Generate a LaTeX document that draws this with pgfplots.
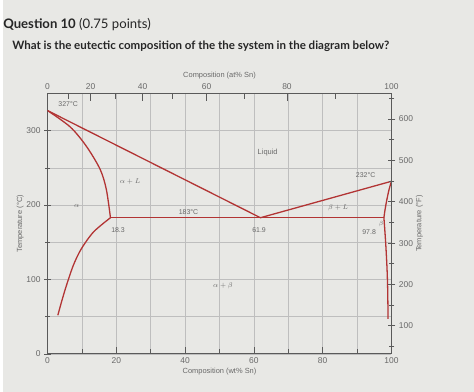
\documentclass[border=0pt]{standalone}
\usepackage{fontspec}
\setmainfont{Liberation Sans}
\newfontfamily\qfont{Lato}
\usepackage{pgfplots}
\pgfplotsset{compat=1.18}
\definecolor{bg}{RGB}{232,232,229}
\definecolor{phase}{RGB}{178,52,52}
\definecolor{axc}{RGB}{90,90,90}
\definecolor{lbl}{RGB}{105,105,105}
\definecolor{gridc}{RGB}{190,190,190}
\begin{document}
\begin{tikzpicture}
\fill[bg] (0pt,0pt) rectangle (474pt,394pt);
\node[anchor=west,font=\qfont\fontsize{13.2}{15}\selectfont,text=black!85] at (-3pt,369pt) {\textbf{Question 10} (0.75 points)};
\node[anchor=west,font=\qfont\bfseries\fontsize{11.6}{14}\selectfont,text=black!85] at (6pt,347pt) {What is the eutectic composition of the the system in the diagram below?};
\begin{axis}[
  at={(45pt,38pt)}, anchor=south west, scale only axis,
  width=346pt, height=262pt,
  xmin=0, xmax=100, ymin=0, ymax=350,
  axis line style={axc, line width=0.9pt},
  xtick={0,20,...,100}, minor xtick={10,30,...,90},
  ytick={0,100,200,300}, minor ytick={50,150,250},
  xtick pos=lower, ytick pos=left,
  tick style={axc, line width=0.6pt},
  xtick align=inside, ytick align=center,
  major tick length=7pt, minor tick length=5pt,
  grid=both,
  major grid style={gridc, line width=0.55pt},
  minor grid style={gridc, line width=0.55pt},
  ticklabel style={font=\fontsize{8.5}{9}\selectfont, text=lbl},
  /pgf/number format/assume math mode=true,
  xlabel={Composition (wt\% Sn)},
  ylabel={Temperature (°C)},
  label style={font=\fontsize{7.5}{9}\selectfont, text=lbl},
  xlabel style={yshift=2pt},
  ylabel style={yshift=-4pt},
]
% liquidus
\addplot[phase, line width=1.3pt] coordinates {(0,327) (61.9,183) (100,232)};
% eutectic isotherm
\addplot[phase, line width=1.3pt] coordinates {(18.3,183) (97.8,183)};
% alpha solidus
\addplot[phase, line width=1.3pt, smooth] coordinates {(0,327) (6.6,305) (11.3,279) (15.3,248) (17.1,221) (18.3,183)};
% alpha solvus
\addplot[phase, line width=1.3pt, smooth] coordinates {(18.3,183) (13.4,164) (9.8,141) (7.5,119) (5.5,92) (4.2,72) (3,52)};
% beta solidus
\addplot[phase, line width=1.3pt, smooth] coordinates {(100,232) (99.3,221) (98.6,206) (98.1,193) (97.8,183)};
% beta solvus
\addplot[phase, line width=1.3pt, smooth] coordinates {(97.8,183) (98.3,150) (98.7,115) (98.9,85) (99,47)};
\node[font=\fontsize{7}{8}\selectfont, text=lbl] at (axis cs:6,336) {327°C};
\node[font=\fontsize{7}{8}\selectfont, text=lbl] at (axis cs:92.5,240) {232°C};
\node[font=\fontsize{7}{8}\selectfont, text=lbl] at (axis cs:41,191) {183°C};
\node[font=\fontsize{7}{8}\selectfont, text=lbl] at (axis cs:20.5,167) {18.3};
\node[font=\fontsize{7}{8}\selectfont, text=lbl] at (axis cs:61.5,167) {61.9};
\node[font=\fontsize{7}{8}\selectfont, text=lbl] at (axis cs:93.5,164) {97.8};
\node[font=\fontsize{7.5}{8}\selectfont, text=lbl] at (axis cs:64,271) {Liquid};
\node[font=\fontsize{7}{8}\selectfont, text=lbl] at (axis cs:24,232) {$\alpha + L$};
\node[font=\fontsize{7}{8}\selectfont, text=lbl] at (axis cs:84.5,196) {$\beta + L$};
\node[font=\fontsize{7}{8}\selectfont, text=lbl] at (axis cs:51,92) {$\alpha + \beta$};
\node[font=\fontsize{7}{8}\selectfont, text=lbl] at (axis cs:8.5,199) {$\alpha$};
\node[font=\fontsize{6}{7}\selectfont, text=lbl] at (axis cs:97,175) {$\beta$};
\node[font=\fontsize{7}{8}\selectfont, text=lbl] at ([yshift=-24pt]axis description cs:0.01,0) {(Pb)};
\node[font=\fontsize{7}{8}\selectfont, text=lbl] at ([yshift=-26pt]axis description cs:1,0) {(Sn)};
\end{axis}
\begin{axis}[
  at={(45pt,38pt)}, anchor=south west, scale only axis,
  width=346pt, height=262pt,
  xmin=0, xmax=100, ymin=32, ymax=662,
  axis x line*=top, axis y line*=right,
  axis line style={axc, line width=0.9pt},
  xtick={0,12.53,27.64,46.22,69.62,100},
  xticklabels={0,20,40,60,80,100},
  minor xtick={5.98,19.71,36.42,57.21,83.76},
  ytick={100,200,...,600}, minor ytick={50,150,...,650},
  tick style={axc, line width=0.6pt},
  xtick align=inside, ytick align=center,
  major tick length=8pt, minor tick length=6pt,
  ticklabel style={font=\fontsize{8.5}{9}\selectfont, text=lbl},
  /pgf/number format/assume math mode=true,
  xlabel={Composition (at\% Sn)},
  ylabel={Temperature (°F)},
  label style={font=\fontsize{7.5}{9}\selectfont, text=lbl},
  xlabel style={yshift=-2pt},
  ylabel style={yshift=4pt},
]
\addplot[draw=none] coordinates {(0,32) (100,662)};
\end{axis}
\end{tikzpicture}
\end{document}
